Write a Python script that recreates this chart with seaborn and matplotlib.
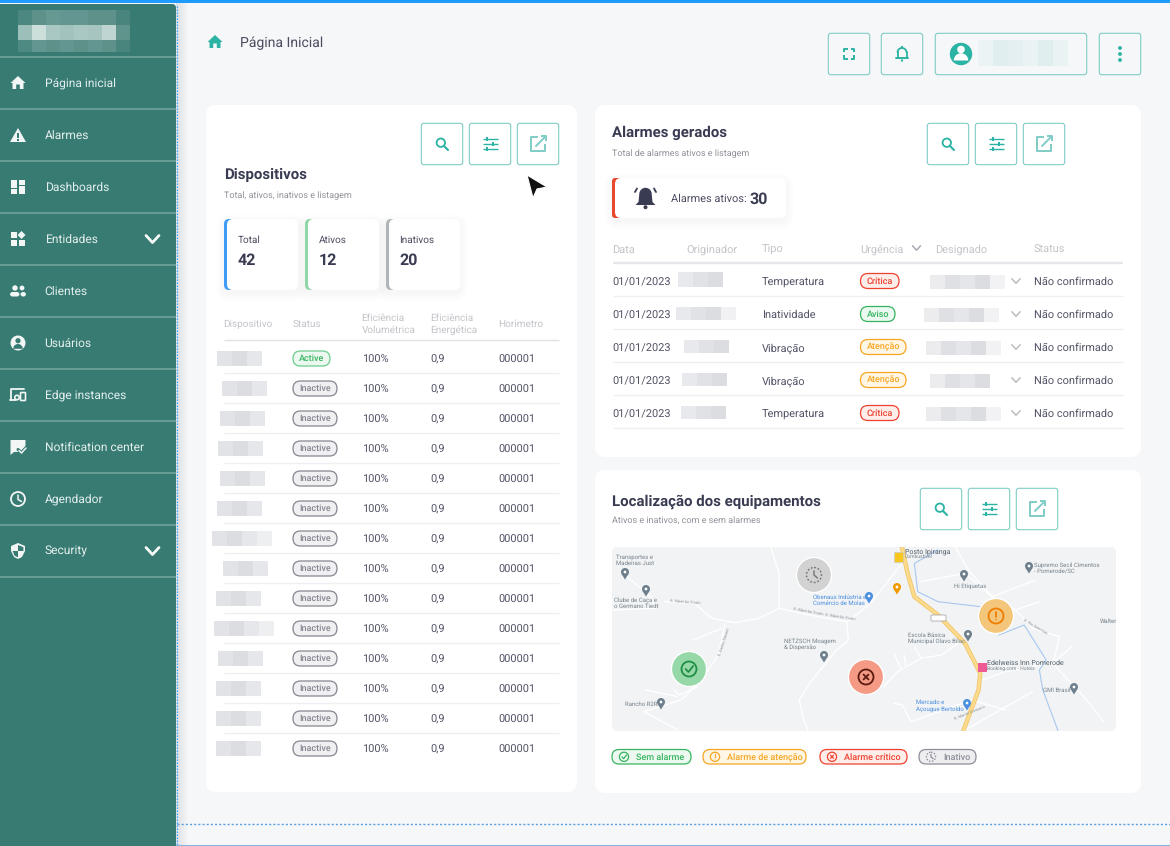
import numpy as np
import pandas as pd
import matplotlib
matplotlib.use('Agg')
import matplotlib.pyplot as plt
import seaborn as sns
from matplotlib.patches import FancyBboxPatch, Rectangle, Circle, Polygon, Wedge, Arc

# Sidebar
menu_labels = ['Página inicial', 'Alarmes', 'Dashboards', 'Entidades', 'Clientes', 'Usuários',
               'Edge instances', 'Notification center', 'Agendador', 'Security']
menu_icons = ['home', 'warn', 'dash', 'ent', 'clients', 'user', 'edge', 'notif', 'clock', 'shield']
menu_expand = ['Entidades', 'Security']

# Devices
kpi_labels = ['Total', 'Ativos', 'Inativos']
kpi_values = [42, 12, 20]
kpi_colors = ['#3f9bf5', '#8fd6a8', '#b0b5b8']
device_headers = ['Dispositivo', 'Status', 'Eficiência\nVolumétrica', 'Eficiência\nEnergética', 'Horímetro']
device_status = ['Active'] + ['Inactive'] * 13
device_eff_vol = ['100%'] * 14
device_eff_en = ['0,9'] * 14
device_hours = ['000001'] * 14
device_blur_x = [217, 222, 220, 218, 220, 217, 212, 223, 216, 214, 218, 216, 216, 216]
device_blur_n = [3, 3, 3, 3, 3, 3, 4, 3, 3, 4, 3, 3, 3, 3]

# Alarms
alarm_headers = ['Data', 'Originador', 'Tipo', 'Urgência', 'Designado', 'Status']
alarm_dates = ['01/01/2023'] * 5
alarm_types = ['Temperatura', 'Inatividade', 'Vibração', 'Vibração', 'Temperatura']
alarm_urgency = ['Crítica', 'Aviso', 'Atenção', 'Atenção', 'Crítica']
alarm_status = ['Não confirmado'] * 5
origin_blur_x = [678, 676, 684, 682, 681]
origin_blur_n = [3, 4, 3, 3, 3]
assign_blur_x = [930, 924, 926, 930, 926]
assign_blur_n = [5, 5, 5, 4, 5]

# Map
map_marker_x = [814, 996, 689, 866]
map_marker_y = [575, 616, 669, 677]
map_marker_kind = ['Inativo', 'Atenção', 'Sem alarme', 'Crítico']
map_marker_colors = {'Inativo': '#d2d2d2', 'Atenção': '#f3c67c', 'Sem alarme': '#97d8a8', 'Crítico': '#f59a85'}
legend_labels = ['Sem alarme', 'Alarme de atenção', 'Alarme crítico', 'Inativo']
legend_x0 = [612, 703, 820, 919]
legend_x1 = [691, 806, 907, 976]
legend_fg = ['#35b45f', '#f5a623', '#ef4130', '#8d8f99']
legend_bg = ['#edf9f0', '#fff6e6', '#fdeeea', '#eeeef1']

road_main = [(893, 20), (910, 100), (930, 170), (1000, 225), (1080, 310), (1125, 400), (1120, 450), (1075, 572)]
roads = [
    [(190, 185), (280, 190), (330, 235), (400, 248), (470, 235), (530, 205), (620, 225), (730, 245), (735, 300),
     (700, 330), (620, 430), (590, 480), (600, 530), (615, 572)],
    [(530, 205), (530, 100), (505, 20)],
    [(80, 110), (150, 170), (165, 205), (40, 210)],
    [(370, 250), (350, 345), (300, 420), (240, 480), (130, 515), (230, 570)],
    [(733, 245), (800, 190), (890, 75)],
    [(840, 440), (880, 395), (950, 355), (1010, 345), (1075, 300)],
    [(870, 340), (890, 385)],
    [(900, 345), (905, 380)],
    [(930, 320), (950, 355)],
    [(1050, 20), (1090, 90), (1160, 170), (1230, 210), (1300, 185)],
    [(1230, 210), (1280, 265), (1360, 290), (1340, 370), (1395, 320)],
    [(1340, 370), (1440, 480), (1490, 545)],
    [(950, 125), (1080, 100), (1160, 170), (1290, 120)],
    [(1130, 420), (1200, 395), (1330, 370)],
    [(870, 490), (895, 495), (920, 545), (1100, 480), (1200, 510)],
    [(1080, 570), (1280, 455)],
    [(135, 450), (230, 470)],
    [(275, 300), (360, 265)],
    [(220, 450), (235, 465), (290, 440)],
]
rivers = [
    [(1000, 30), (930, 70), (940, 155), (1000, 185), (1125, 200)],
    [(1180, 285), (1255, 255), (1320, 360), (1300, 390), (1310, 450), (1355, 572)],
]
map_labels = [
    ('Transportes e\nMadeiras Just', 616, 560.5, '#78838c', 4.6),
    ('Clube de Caça e\no Germano Tiedt', 614, 603, '#78838c', 4.6),
    ('Obenaus Indústria e\nComércio de Molas', 813, 600, '#4b8fe0', 4.6),
    ('NETZSCH Moagem\n& Dispersão', 784, 644, '#78838c', 4.6),
    ('Rancho R2R', 625, 704, '#78838c', 4.6),
    ('Posto Ipiranga', 905, 552, '#55606a', 4.8),
    ('Combustível', 905, 557, '#78838c', 3.4),
    ('Supremo Secil Cimentos\n- Pomerode/SC', 1034, 568, '#78838c', 4.6),
    ('Hi Etiquetas', 954, 586.5, '#78838c', 4.6),
    ('Escola Básica\nMunicipal Olavo Bilac', 908, 638, '#78838c', 4.6),
    ('Edelweiss Inn Pomerode', 987, 663, '#55606a', 4.8),
    ('Booking.com - Hotéis', 987, 668.5, '#78838c', 3.4),
    ('Mercado e\nAçougue Bertoldo', 916, 706, '#4b8fe0', 4.6),
    ('GMI Brasil', 1043, 690, '#78838c', 4.6),
    ('Walter', 1100, 621, '#78838c', 4.6),
]
street_labels = [('R. Ribeirão Souto', 685, 602, -4), ('R. Ribeirão Souto', 808, 612, -10), ('R. Ribeirão Souto', 840, 617, -8),
                 ('R. Emilio Sievert', 724, 642, 72), ('R. Rio Areinhas', 1035, 627, -30), ('R. Martin Klemann', 970, 713, 22)]
map_pins = [(625, 574, '#6d7f8c'), (646, 591, '#6d7f8c'), (869, 598, '#4b8fe0'), (824, 657, '#6d7f8c'),
            (661, 704, '#6d7f8c'), (964, 576, '#6d7f8c'), (1029, 568, '#6d7f8c'), (968, 636, '#6d7f8c'),
            (967, 705, '#4b8fe0'), (1074, 689, '#6d7f8c'), (897, 589, '#f09a00')]

TEAL = '#2bb3a3'
BORDER = '#7fcdc5'
SIDE = '#377b73'
DARK = '#393b52'
ROW = '#525366'
SUB = '#8f9099'
HEAD = '#c2c4c8'
LINE = '#eeeff2'

sns.set_theme(style='white')
plt.rcParams['font.family'] = ['Roboto', 'DejaVu Sans']
plt.rcParams['patch.force_edgecolor'] = False
plt.rcParams['text.hinting'] = 'none'
plt.rcParams['text.hinting_factor'] = 1

fig = plt.figure(figsize=(11.7, 8.46), dpi=100, facecolor='#f6f7f9')
ax = fig.add_axes([0, 0, 1, 1])
ax.set_xlim(0, 1170)
ax.set_ylim(846, 0)
ax.axis('off')


def rrect(x0, y0, x1, y1, r=3, fc='white', ec='none', lw=1.0, z=2, alpha=None):
    p = FancyBboxPatch((x0, y0), x1 - x0, y1 - y0, boxstyle=f'round,pad=0,rounding_size={r}',
                       fc=fc, ec=ec, lw=lw, zorder=z, alpha=alpha)
    ax.add_patch(p)
    return p


def shadow(x0, y0, x1, y1, r=6, z=2, dy=3):
    for i in range(8, 0, -1):
        rrect(x0 - i, y0 - i + dy, x1 + i, y1 + i + dy, r + i, fc='#9aa0b0', alpha=0.009, z=z)


def txt(x, y, s, size=8.5, color=ROW, weight='normal', ha='left', z=6, va='center', ls=1.2):
    ax.text(x - 0.4, y + 1.7, s, fontsize=size, color=color, fontweight=weight, ha=ha, va=va, zorder=z, linespacing=ls)


def line(xs, ys, color, lw=1.0, z=3, cap='round', ls='-'):
    ax.plot(xs, ys, color=color, lw=lw, zorder=z, solid_capstyle=cap, ls=ls, solid_joinstyle='round')


def blur(x, y0, y1, n, base, step=15, z=4):
    # pixelated block censoring
    for i in range(n):
        g = base[i % len(base)]
        ax.add_patch(Rectangle((x + i * step, y0), step, y1 - y0, fc=g, ec='none', zorder=z))


def circ(x, y, r, fc='none', ec='none', lw=1.0, z=6):
    ax.add_patch(Circle((x, y), r, fc=fc, ec=ec, lw=lw, zorder=z))


def poly(pts, fc, z=6, ec='none', lw=0.8):
    ax.add_patch(Polygon(pts, closed=True, fc=fc, ec=ec, lw=lw, zorder=z))


def box(x, y, w, h, fc, z=6):
    ax.add_patch(Rectangle((x, y), w, h, fc=fc, ec='none', zorder=z))


def chevron(x, y, w, h, color, lw=1.0):
    line([x - w, x, x + w], [y - h, y + h, y - h], color, lw, z=6)


def icon_home(x, y, c, s=1.0):
    poly([(x - 7.5 * s, y), (x, y - 7 * s), (x + 7.5 * s, y), (x + 5.5 * s, y), (x + 5.5 * s, y + 6 * s),
          (x + 1.8 * s, y + 6 * s), (x + 1.8 * s, y + 1.5 * s), (x - 1.8 * s, y + 1.5 * s), (x - 1.8 * s, y + 6 * s),
          (x - 5.5 * s, y + 6 * s), (x - 5.5 * s, y)], c)


def icon_menu(kind, x, y):
    c = '#f2f6f5'
    if kind == 'home':
        icon_home(x, y, c)
    elif kind == 'warn':
        poly([(x - 8, y + 7), (x, y - 7), (x + 8, y + 7)], c)
        box(x - 0.8, y - 2, 1.6, 5, SIDE, 7)
        box(x - 0.8, y + 4, 1.6, 1.6, SIDE, 7)
    elif kind == 'dash':
        for r in [(-7, -7, 6, 8), (0.5, -7, 6.5, 5), (-7, 2.5, 6, 5), (0.5, -0.5, 6.5, 8)]:
            box(x + r[0], y + r[1], r[2], r[3], c)
    elif kind == 'ent':
        for r in [(-7, -6.5, 6, 6), (-7, 1, 6, 6), (0.5, 1, 6, 6)]:
            box(x + r[0], y + r[1], r[2], r[3], c)
        poly([(x + 3.5, y - 8), (x + 7.5, y - 4), (x + 3.5, y), (x - 0.5, y - 4)], c)
    elif kind == 'clients':
        circ(x - 3, y - 3, 2.7, fc=c)
        circ(x + 4, y - 3, 2.4, fc=c)
        rrect(x - 8, y + 1, x + 1.5, y + 5.5, 2.5, fc=c, z=6)
        rrect(x + 2.5, y + 1, x + 8, y + 5.5, 2.5, fc=c, z=6)
    elif kind == 'user':
        circ(x, y, 7.5, fc=c)
        circ(x, y - 2.3, 2.6, fc=SIDE, z=7)
        ax.add_patch(Wedge((x, y + 5.8), 4.8, 180, 360, fc=SIDE, ec='none', zorder=7))
    elif kind == 'edge':
        line([x + 6, x - 7.5, x - 7.5], [y - 5.5, y - 5.5, y + 5], c, 1.3, z=6)
        line([x - 8, x - 2], [y + 5.5, y + 5.5], c, 1.3, z=6)
        circ(x - 1, y + 2.5, 2.2, ec=c, lw=1.2)
        rrect(x + 2.5, y - 2.5, x + 7.5, y + 5.5, 0.8, fc='none', ec=c, lw=1.2, z=6)
    elif kind == 'notif':
        poly([(x - 7.5, y - 7), (x + 7.5, y - 7), (x + 7.5, y + 1), (x + 2, y + 5), (x - 4, y + 5), (x - 7.5, y + 8)], c)
        line([x, x + 3.5, x + 9], [y + 2.5, y + 5.5, y - 0.5], SIDE, 2.2, z=6.5)
        line([x + 1, x + 3.5, x + 8], [y + 3.5, y + 6, y + 1], c, 1.1, z=7)
    elif kind == 'clock':
        circ(x, y, 7, ec=c, lw=1.3)
        line([x, x, x + 3.5], [y - 4, y + 0.5, y + 2.5], c, 1.1, z=7)
    elif kind == 'shield':
        poly([(x, y - 8), (x + 7, y - 5), (x + 7, y), (x + 4, y + 6), (x, y + 8), (x - 4, y + 6), (x - 7, y), (x - 7, y - 5)], c)
        poly([(x, y - 6), (x + 5.4, y - 3.8), (x + 5.4, y), (x, y)], SIDE, z=7)
        poly([(x, y), (x - 5.4, y), (x - 3.4, y + 4.8), (x, y + 6.3)], SIDE, z=7)


def btn_search(x, y):
    circ(x - 1.2, y - 1.3, 4.2, ec=TEAL, lw=1.3)
    line([x + 2, x + 6], [y + 2, y + 6], TEAL, 1.5, z=6)


def btn_slider(x, y):
    for dy, dx in zip([-5, 0, 5], [-3, 3, -3]):
        line([x - 7.5, x + 7.5], [y + dy, y + dy], TEAL, 1.0, z=6, cap='butt')
        box(x + dx - 1.2, y + dy - 2, 2.4, 4, TEAL)


def btn_ext(x, y):
    line([x + 0, x - 7, x - 7, x + 7, x + 7], [y - 7, y - 7, y + 7, y + 7, y + 0], BORDER, 1.4, z=6, cap='butt')
    line([x - 2, x + 7.5], [y + 2, y - 7.5], BORDER, 1.4, z=6)
    line([x + 2.5, x + 7.5, x + 7.5], [y - 7.5, y - 7.5, y - 2.5], BORDER, 1.4, z=6, cap='butt')


def three_buttons(xs, y0):
    fns = [btn_search, btn_slider, btn_ext]
    for x, fn in zip(xs, fns):
        rrect(x + 0.3, y0 + 0.3, x + 41.7, y0 + 41.7, 2.5, fc='white', ec=BORDER, lw=0.8, z=5)
        fn(x + 21, y0 + 21)


def card(x0, y0, x1, y1):
    rrect(x0, y0, x1, y1, 10, fc='white', z=1)


# page frame
box(0, 0, 1170, 3.2, '#1e9bff', 20)
line([177, 1170], [824, 824], '#5a9fe0', 1.0, z=1, ls=(0, (1.5, 1.5)))
line([0, 1170], [845.5, 845.5], '#8cb4dd', 0.8, z=1)
for i in range(12, 0, -1):
    ax.add_patch(Rectangle((176, 0), i, 846, fc='#a9afc0', ec='none', alpha=0.025, zorder=0.5))
rrect(-10, 4, 176, 860, 4, fc=SIDE, z=2)
line([176.5, 176.5], [6, 846], '#3aa6ff', 0.9, z=3, ls=(0, (1.2, 1.2)))

# sidebar logo
logo_rows = [(10, 25, ['#4c8880', '#5d9189', '#659992', '#639690', '#639690', '#5d9189', '#5d9189', '#4a857d']),
             (25, 40, ['#9dbfba', '#cddfdb', '#a9c7c3', '#a2c2bd', '#a9c7c3', '#a6c5c0', '#bed5d1', '#5f948d']),
             (40, 52, ['#4f8a82', '#639690', '#5d9189', '#639690', '#5d9189', '#639690', '#5d9189', '#4a857d'])]
for y0, y1, vals in logo_rows:
    blur(18, y0, y1, len(vals), vals, step=14)

for i, (lab, ic) in enumerate(zip(menu_labels, menu_icons)):
    yc = 83 + 52 * i
    line([0, 176], [57 + 52 * i, 57 + 52 * i], '#79a6a0', 1.1, z=3, cap='butt')
    txt(45, yc - 1.2, lab, 8.5, '#e4efed')
    icon_menu(ic, 18, yc)
    if lab in menu_expand:
        chevron(152.5, yc, 6.5, 3.5, '#f7faf9', 2.0)
line([0, 176], [577, 577], '#79a6a0', 1.1, z=3, cap='butt')

# top bar
icon_home(215, 42, TEAL)
txt(240, 42, 'Página Inicial', 9.8, '#4a4c60')
top_x0 = [828, 881, 935, 1099]
top_x1 = [870, 923, 1087, 1141]
for x0, x1 in zip(top_x0, top_x1):
    rrect(x0 + 0.3, 33.3, x1 - 0.3, 74.7, 2.5, fc='#f6f7f9', ec=BORDER, lw=0.8, z=5)
# fullscreen icon
fx, fy = 849, 54
for sx in (-1, 1):
    for sy in (-1, 1):
        line([fx + sx * 5, fx + sx * 5, fx + sx * 1.5], [fy + sy * 1.5, fy + sy * 5, fy + sy * 5], TEAL, 1.4, z=6, cap='butt')
# bell icon
bx, by = 902, 54
ax.add_patch(Arc((bx, by - 1.5), 9, 9, theta1=180, theta2=360, ec=TEAL, lw=1.3, zorder=6))
line([bx - 4.5, bx - 4.5], [by + 3.5, by - 1.5], TEAL, 1.3, z=6)
line([bx + 4.5, bx + 4.5], [by + 3.5, by - 1.5], TEAL, 1.3, z=6)
line([bx - 6, bx + 6], [by + 4, by + 4], TEAL, 1.4, z=6)
circ(bx, by - 7, 1.1, fc=TEAL)
circ(bx, by + 6.5, 1.2, fc=TEAL)
# user icon
circ(961, 54, 11.2, fc=TEAL)
circ(961, 49.5, 3.8, fc='white', z=7)
ax.add_patch(Wedge((961, 60.5), 7.3, 180, 360, fc='white', ec='none', zorder=7))
blur(978, 40, 66, 6, ['#ecf3f4', '#e0eef0', '#e3eff0', '#e9f3f3', '#e0eef0', '#e9f3f3'], z=6)
# dots
for dy in (-6, 0, 6):
    circ(1120, 54 + dy, 1.9, fc=TEAL)

# --- Dispositivos card
card(206, 105, 577, 792)
three_buttons([421, 469, 517], 123)
txt(224, 173.5, 'Dispositivos', 10.7, DARK, 'bold')
txt(224, 194, 'Total, ativos, inativos e listagem', 6.45, SUB)
poly([(527, 175), (547, 187), (537, 189), (533, 198)], '#111111', z=9, ec='white', lw=0.8)

kpi_x = [224, 305, 386]
for x, lab, val, col in zip(kpi_x, kpi_labels, kpi_values, kpi_colors):
    shadow(x, 219, x + 74, 290, 6)
    rrect(x, 219, x + 12, 290, 5, fc=col, z=3)
    rrect(x + 3, 219, x + 74, 290, 6, fc='white', z=3.5)
    txt(x + 14, 238.5, lab, 6.9, '#4a4c60')
    txt(x + 14, 259, str(val), 11.3, DARK, 'bold')

dev_cols = [224, 293, 362, 431, 499]
for x, h in zip(dev_cols, device_headers):
    txt(x, 322.5, h, 7.5, HEAD, ls=1.35)
line([224, 559], [340.5, 340.5], '#dfe1e5', 1.0, cap='butt')

for i in range(len(device_status)):
    yc = 358.5 + 30 * i
    if i < len(device_status) - 1:
        line([224, 559], [yc + 15, yc + 15], LINE, 0.9, cap='butt')
    blur(device_blur_x[i], yc - 7, yc + 7.5, device_blur_n[i], ['#e2e3e6', '#dcdde0', '#e6e7ea', '#eeeff1'])
    active = device_status[i] == 'Active'
    fg = '#35b45f' if active else '#85868f'
    bg = '#ecf9f0' if active else '#f0f0f3'
    x1 = 330 if active else 337
    rrect(293, yc - 7.5, x1, yc + 7.5, 7.5, fc=bg, ec=fg if not active else '#6ccb8c', lw=0.9, z=5)
    txt((293 + x1) / 2 + 0.4, yc - 1.7, device_status[i], 6.7, fg, ha='center', weight='medium')
    txt(362, yc - 0.4, device_eff_vol[i], 7.8, ROW)
    txt(431, yc - 0.4, device_eff_en[i], 7.8, ROW)
    txt(499, yc - 0.4, device_hours[i], 7.8, ROW)

# --- Alarmes card
card(595, 105, 1141, 457)
three_buttons([927, 975, 1023], 123)
txt(612.5, 131.5, 'Alarmes gerados', 10.7, DARK, 'bold')
txt(612.5, 152, 'Total de alarmes ativos e listagem', 6.45, SUB)
shadow(612, 178, 786, 218, 6)
rrect(612, 178, 624, 218, 3, fc='#e8492c', z=3)
rrect(615, 178, 786, 218, 6, fc='white', z=3.5)
# bell
ax.add_patch(Wedge((645.5, 194), 6.2, 180, 360, fc=DARK, ec='none', zorder=6))
poly([(639.3, 194), (651.7, 194), (652.5, 202), (655.5, 205), (635.5, 205), (638.5, 202)], DARK)
circ(645.5, 207.2, 2.0, fc=DARK)
line([637, 635], [188.5, 192], DARK, 1.3, z=6)
line([654, 656], [188.5, 192], DARK, 1.3, z=6)
txt(671, 197.5, 'Alarmes ativos:', 7.6, '#4a4c60')
txt(749.5, 197.5, '30', 11.3, DARK, 'bold')

alarm_cols = [612.5, 687, 762, 860.5, 935, 1034]
for x, h in zip(alarm_cols, alarm_headers):
    txt(x, 248, h, 7.6, HEAD)
chevron(916.5, 248, 4, 2.2, '#a9abb2', 1.1)
line([612.5, 1123], [263.5, 263.5], '#e6e7ea', 1.7, cap='butt')

urg_style = {'Crítica': ('#ef4130', '#fdeeea', 899), 'Aviso': ('#35b45f', '#ecf9f0', 895), 'Atenção': ('#f5a623', '#fff6e6', 906)}
for i in range(5):
    yc = 281 + 33 * i
    line([612.5, 1123], [yc + 15, yc + 15], LINE, 0.9, cap='butt')
    txt(612.5, yc - 0.4, alarm_dates[i], 7.6, ROW)
    blur(origin_blur_x[i], yc - 9 if i == 0 else yc - 7, yc + 6, origin_blur_n[i], ['#e8e9ec', '#e1e2e6', '#dcdde1', '#f1f1f3'])
    txt(762, yc - 0.4, alarm_types[i], 7.6, ROW)
    fg, bg, x1 = urg_style[alarm_urgency[i]]
    rrect(860.5, yc - 7.5, x1, yc + 7.5, 7.5, fc=bg, ec=fg, lw=0.9, z=5)
    txt((860.5 + x1) / 2 + 0.4, yc - 1.7, alarm_urgency[i], 6.7, fg, ha='center', weight='medium')
    blur(assign_blur_x[i], yc - 6, yc + 8, assign_blur_n[i], ['#ececef', '#dfe0e4', '#e5e6e9', '#dcdde1', '#f2f2f4'])
    chevron(1016, yc, 4.2, 2.3, '#b5b7bc', 1.0)
    txt(1034, yc - 0.4, alarm_status[i], 7.6, ROW)

# --- Mapa card
card(595, 470, 1141, 793)
three_buttons([920, 968, 1016], 488)
txt(612.5, 499.5, 'Localização dos equipamentos', 10.7, DARK, 'bold')
txt(612.5, 520, 'Ativos e inativos, com e sem alarmes', 6.45, SUB)

map_bg = rrect(612, 547, 1116, 731, 6, fc='#f1f3f4', z=2)


def crop_xy(pts):
    return [600 + p[0] * 0.338 for p in pts], [540 + p[1] / 3 for p in pts]


for rd in roads:
    xs, ys = crop_xy(rd)
    for a in ax.plot(xs, ys, color='white', lw=1.0, zorder=2.2, solid_joinstyle='round'):
        a.set_clip_path(map_bg)
for rv in rivers:
    xs, ys = crop_xy(rv)
    for a in ax.plot(xs, ys, color='#a8c7f2', lw=0.8, zorder=2.3):
        a.set_clip_path(map_bg)
xs, ys = crop_xy(road_main)
for a in ax.plot(xs, ys, color='#f2c66e', lw=3.2, zorder=2.5, solid_joinstyle='round'):
    a.set_clip_path(map_bg)
for a in ax.plot(xs, ys, color='#fcdc8c', lw=1.9, zorder=2.6, solid_joinstyle='round'):
    a.set_clip_path(map_bg)
for s, x, y, c, fs in map_labels:
    t = ax.text(x, y, s, fontsize=fs, color=c, va='center', ha='left', zorder=3, linespacing=1.15)
    t.set_clip_path(map_bg)
for s, x, y, rot in street_labels:
    ax.text(x, y, s, fontsize=3.2, color='#90989f', va='center', ha='center', rotation=rot, zorder=3)
for x, y, c in map_pins:
    circ(x, y - 2, 4.0, fc=c, z=3)
    poly([(x - 3.4, y), (x + 3.4, y), (x, y + 5.5)], c, z=3)
    circ(x, y - 2, 1.4, fc='white', z=3.1)
ax.add_patch(Rectangle((894, 552), 9, 10, fc='#f8c81c', ec='#cccccc', lw=0.5, zorder=3))
box(978, 663, 9, 9, '#ee5a93', 3)
rrect(931, 615, 946, 621, 1, fc='white', ec='#999999', lw=0.5, z=3)

# markers through seaborn scatter
map_df = pd.DataFrame({'x': map_marker_x, 'y': map_marker_y, 'kind': map_marker_kind})
sns.scatterplot(data=map_df, x='x', y='y', hue='kind', palette=map_marker_colors, s=640, linewidth=1.0,
                edgecolor='white', legend=False, zorder=4, ax=ax)
ax.set_xlim(0, 1170)
ax.set_ylim(846, 0)
ax.axis('off')


def mark_ok(x, y, c, r, lw):
    circ(x, y, r, ec=c, lw=lw, z=7)
    line([x - r * .45, x - r * .08, x + r * .55], [y, y + r * .4, y - r * .4], c, lw, z=7)


def mark_warn(x, y, c, r, lw):
    circ(x, y, r, ec=c, lw=lw, z=7)
    line([x, x], [y - r * .5, y + r * .1], c, lw, z=7)
    circ(x, y + r * .48, lw * .55, fc=c, z=7)


def mark_err(x, y, c, r, lw):
    circ(x, y, r, ec=c, lw=lw, z=7)
    k = r * .33
    line([x - k, x + k], [y - k, y + k], c, lw, z=7)
    line([x - k, x + k], [y + k, y - k], c, lw, z=7)


def mark_clock(x, y, c, r, lw):
    ax.add_patch(Circle((x, y), r, fc='none', ec=c, lw=lw, ls=(0, (1.2, 1.2)), zorder=7))
    line([x, x, x + r * .45], [y - r * .55, y, y + r * .4], c, lw, z=7)


mark_clock(814, 575, '#7b7b7e', 7.5, 1.1)
mark_warn(996, 616, '#ef7d00', 7.5, 1.3)
mark_ok(689, 669, '#1f8f45', 7.5, 1.3)
mark_err(866, 677, '#5a1a10', 7.5, 1.3)

# legend chips
chip_icons = [mark_ok, mark_warn, mark_err, mark_clock]
for lab, x0, x1, fg, bg, fn in zip(legend_labels, legend_x0, legend_x1, legend_fg, legend_bg, chip_icons):
    rrect(x0, 749.5, x1, 764, 7, fc=bg, ec=fg, lw=0.9, z=5)
    fn(x0 + 12, 756.8, fg, 4.6, 0.9)
    txt(x0 + 24.5, 755.5, lab, 6.4, fg, weight='medium')

fig.savefig('out.png', dpi=100, facecolor=fig.get_facecolor())
